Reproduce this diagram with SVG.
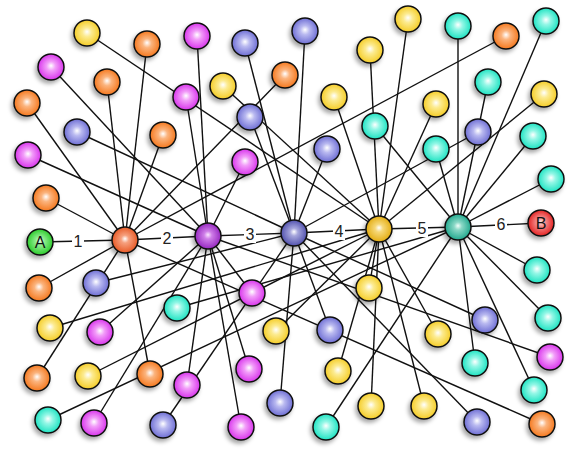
<svg xmlns="http://www.w3.org/2000/svg" xmlns:xlink="http://www.w3.org/1999/xlink" width="580" height="452" viewBox="0 0 580 452">
<defs>
<filter id="sh" x="-50%" y="-50%" width="200%" height="200%">
<feDropShadow dx="-2" dy="3" stdDeviation="2" flood-color="#000" flood-opacity="0.35"/>
</filter>
<radialGradient id="gO" cx="0.5" cy="0.5" r="0.5" fx="0.5" fy="0.45"><stop offset="0" stop-color="#fff"/><stop offset="0.35" stop-color="#fbb47e"/><stop offset="1" stop-color="#f5791f"/></radialGradient>
<radialGradient id="gM" cx="0.5" cy="0.5" r="0.5" fx="0.5" fy="0.45"><stop offset="0" stop-color="#fff"/><stop offset="0.35" stop-color="#f29cf9"/><stop offset="1" stop-color="#d936ec"/></radialGradient>
<radialGradient id="gB" cx="0.5" cy="0.5" r="0.5" fx="0.5" fy="0.45"><stop offset="0" stop-color="#fff"/><stop offset="0.35" stop-color="#b9b9f0"/><stop offset="1" stop-color="#6f6fd4"/></radialGradient>
<radialGradient id="gY" cx="0.5" cy="0.5" r="0.5" fx="0.5" fy="0.45"><stop offset="0" stop-color="#fff"/><stop offset="0.35" stop-color="#fceb90"/><stop offset="1" stop-color="#f5cd28"/></radialGradient>
<radialGradient id="gT" cx="0.5" cy="0.5" r="0.5" fx="0.5" fy="0.45"><stop offset="0" stop-color="#fff"/><stop offset="0.35" stop-color="#93f7e6"/><stop offset="1" stop-color="#1fe3c2"/></radialGradient>
<radialGradient id="h1" cx="0.5" cy="0.5" r="0.5" fx="0.5" fy="0.45"><stop offset="0" stop-color="#fff"/><stop offset="0.3" stop-color="#f6a07e"/><stop offset="1" stop-color="#e85a26"/></radialGradient>
<radialGradient id="h2" cx="0.5" cy="0.5" r="0.5" fx="0.5" fy="0.45"><stop offset="0" stop-color="#fbe6ff"/><stop offset="0.3" stop-color="#cf7ee8"/><stop offset="1" stop-color="#9628c0"/></radialGradient>
<radialGradient id="h3" cx="0.5" cy="0.5" r="0.5" fx="0.5" fy="0.45"><stop offset="0" stop-color="#fff"/><stop offset="0.3" stop-color="#a6a6dc"/><stop offset="1" stop-color="#5252ae"/></radialGradient>
<radialGradient id="h4" cx="0.5" cy="0.5" r="0.5" fx="0.5" fy="0.45"><stop offset="0" stop-color="#fff"/><stop offset="0.3" stop-color="#f6d878"/><stop offset="1" stop-color="#e4ad12"/></radialGradient>
<radialGradient id="h5" cx="0.5" cy="0.5" r="0.5" fx="0.5" fy="0.45"><stop offset="0" stop-color="#f2fffb"/><stop offset="0.3" stop-color="#8ad8c6"/><stop offset="1" stop-color="#22a98e"/></radialGradient>
<radialGradient id="gA" cx="0.5" cy="0.5" r="0.5" fx="0.5" fy="0.45"><stop offset="0" stop-color="#e8ffe8"/><stop offset="0.35" stop-color="#8cec8c"/><stop offset="1" stop-color="#2ccc2c"/></radialGradient>
<radialGradient id="gR" cx="0.5" cy="0.5" r="0.5" fx="0.5" fy="0.45"><stop offset="0" stop-color="#ffe8e8"/><stop offset="0.35" stop-color="#f58a8a"/><stop offset="1" stop-color="#e42424"/></radialGradient>
</defs>
<style>
circle{stroke:#111;stroke-width:1.5;filter:url(#sh)}
.o{fill:url(#gO)}.m{fill:url(#gM)}.b{fill:url(#gB)}.y{fill:url(#gY)}.t{fill:url(#gT)}
#edges line{stroke:#111;stroke-width:1.4}
.lbl{font-family:"Liberation Sans",Arial,sans-serif;font-size:16px;fill:#222;text-anchor:middle}
.nl{font-family:"Liberation Sans",Arial,sans-serif;font-size:16px;fill:#111;text-anchor:middle}
.bg{fill:#fff}
</style>
<rect width="580" height="452" fill="#fff"/>
<g id="edges">
<line x1="40" y1="242" x2="125" y2="240"/>
<line x1="125" y1="240" x2="208" y2="236"/>
<line x1="208" y1="236" x2="294" y2="233"/>
<line x1="294" y1="233" x2="379" y2="229"/>
<line x1="379" y1="229" x2="458" y2="227"/>
<line x1="458" y1="227" x2="541" y2="223"/>
<!-- H1 -->
<line x1="125" y1="240" x2="147" y2="44"/>
<line x1="125" y1="240" x2="506" y2="36"/>
<line x1="125" y1="240" x2="107" y2="82"/>
<line x1="125" y1="240" x2="285" y2="75"/>
<line x1="125" y1="240" x2="27" y2="103"/>
<line x1="125" y1="240" x2="163" y2="135"/>
<line x1="125" y1="240" x2="46" y2="198"/>
<line x1="125" y1="240" x2="39" y2="288"/>
<line x1="125" y1="240" x2="37" y2="378"/>
<line x1="125" y1="240" x2="150" y2="374"/>
<line x1="125" y1="240" x2="542" y2="424"/>
<!-- H2 -->
<line x1="208" y1="236" x2="197" y2="36"/>
<line x1="208" y1="236" x2="51" y2="67"/>
<line x1="208" y1="236" x2="186" y2="97"/>
<line x1="208" y1="236" x2="28" y2="155"/>
<line x1="208" y1="236" x2="245" y2="162"/>
<line x1="208" y1="236" x2="252" y2="293"/>
<line x1="208" y1="236" x2="100" y2="332"/>
<line x1="208" y1="236" x2="550" y2="357"/>
<line x1="208" y1="236" x2="187" y2="385"/>
<line x1="208" y1="236" x2="249" y2="369"/>
<line x1="208" y1="236" x2="94" y2="423"/>
<line x1="208" y1="236" x2="241" y2="427"/>
<!-- H3 -->
<line x1="294" y1="233" x2="245" y2="43"/>
<line x1="294" y1="233" x2="305" y2="31"/>
<line x1="294" y1="233" x2="250" y2="117"/>
<line x1="294" y1="233" x2="77" y2="132"/>
<line x1="294" y1="233" x2="478" y2="132"/>
<line x1="294" y1="233" x2="327" y2="149"/>
<line x1="294" y1="233" x2="96" y2="283"/>
<line x1="294" y1="233" x2="330" y2="330"/>
<line x1="294" y1="233" x2="485" y2="320"/>
<line x1="294" y1="233" x2="163" y2="425"/>
<line x1="294" y1="233" x2="280" y2="403"/>
<line x1="294" y1="233" x2="477" y2="422"/>
<!-- H4 -->
<line x1="379" y1="229" x2="87" y2="33"/>
<line x1="379" y1="229" x2="408" y2="19"/>
<line x1="379" y1="229" x2="223" y2="86"/>
<line x1="379" y1="229" x2="370" y2="50"/>
<line x1="379" y1="229" x2="334" y2="97"/>
<line x1="379" y1="229" x2="544" y2="94"/>
<line x1="379" y1="229" x2="436" y2="104"/>
<line x1="379" y1="229" x2="369" y2="288"/>
<line x1="379" y1="229" x2="50" y2="328"/>
<line x1="379" y1="229" x2="276" y2="331"/>
<line x1="379" y1="229" x2="438" y2="334"/>
<line x1="379" y1="229" x2="88" y2="376"/>
<line x1="379" y1="229" x2="338" y2="371"/>
<line x1="379" y1="229" x2="371" y2="406"/>
<line x1="379" y1="229" x2="424" y2="406"/>
<!-- H5 -->
<line x1="458" y1="227" x2="458" y2="26"/>
<line x1="458" y1="227" x2="546" y2="21"/>
<line x1="458" y1="227" x2="488" y2="82"/>
<line x1="458" y1="227" x2="375" y2="126"/>
<line x1="458" y1="227" x2="436" y2="149"/>
<line x1="458" y1="227" x2="533" y2="136"/>
<line x1="458" y1="227" x2="551" y2="179"/>
<line x1="458" y1="227" x2="537" y2="270"/>
<line x1="458" y1="227" x2="177" y2="308"/>
<line x1="458" y1="227" x2="548" y2="318"/>
<line x1="458" y1="227" x2="475" y2="363"/>
<line x1="458" y1="227" x2="534" y2="390"/>
<line x1="458" y1="227" x2="48" y2="420"/>
<line x1="458" y1="227" x2="326" y2="427"/>
</g>
<g id="labels">
<rect class="bg" x="72" y="233" width="12" height="17"/><text class="lbl" x="78" y="247">1</text>
<rect class="bg" x="161" y="229" width="12" height="17"/><text class="lbl" x="167" y="244">2</text>
<rect class="bg" x="244" y="226" width="12" height="17"/><text class="lbl" x="250" y="240">3</text>
<rect class="bg" x="333" y="223" width="12" height="17"/><text class="lbl" x="339" y="237">4</text>
<rect class="bg" x="416" y="220" width="12" height="17"/><text class="lbl" x="422" y="234">5</text>
<rect class="bg" x="495" y="216" width="12" height="17"/><text class="lbl" x="501" y="230">6</text>
</g>
<g id="n1"><circle class="y" cx="87" cy="33" r="13"/></g>
<g id="n2"><circle class="o" cx="147" cy="44" r="13"/></g>
<g id="n3"><circle class="m" cx="197" cy="36" r="13"/></g>
<g id="n4"><circle class="b" cx="245" cy="43" r="13"/></g>
<g id="n5"><circle class="b" cx="305" cy="31" r="13"/></g>
<g id="n6"><circle class="y" cx="408" cy="19" r="13"/></g>
<g id="n7"><circle class="t" cx="458" cy="26" r="13"/></g>
<g id="n8"><circle class="o" cx="506" cy="36" r="13"/></g>
<g id="n9"><circle class="t" cx="546" cy="21" r="13"/></g>
<g id="n10"><circle class="m" cx="51" cy="67" r="13"/></g>
<g id="n11"><circle class="o" cx="107" cy="82" r="13"/></g>
<g id="n12"><circle class="m" cx="186" cy="97" r="13"/></g>
<g id="n13"><circle class="y" cx="223" cy="86" r="13"/></g>
<g id="n14"><circle class="o" cx="285" cy="75" r="13"/></g>
<g id="n15"><circle class="y" cx="370" cy="50" r="13"/></g>
<g id="n16"><circle class="y" cx="334" cy="97" r="13"/></g>
<g id="n17"><circle class="b" cx="250" cy="117" r="13"/></g>
<g id="n18"><circle class="t" cx="488" cy="82" r="13"/></g>
<g id="n19"><circle class="y" cx="544" cy="94" r="13"/></g>
<g id="n20"><circle class="o" cx="27" cy="103" r="13"/></g>
<g id="n21"><circle class="b" cx="77" cy="132" r="13"/></g>
<g id="n22"><circle class="o" cx="163" cy="135" r="13"/></g>
<g id="n23"><circle class="t" cx="375" cy="126" r="13"/></g>
<g id="n24"><circle class="y" cx="436" cy="104" r="13"/></g>
<g id="n25"><circle class="b" cx="478" cy="132" r="13"/></g>
<g id="n26"><circle class="t" cx="436" cy="149" r="13"/></g>
<g id="n27"><circle class="t" cx="533" cy="136" r="13"/></g>
<g id="n28"><circle class="m" cx="28" cy="155" r="13"/></g>
<g id="n29"><circle class="b" cx="327" cy="149" r="13"/></g>
<g id="n30"><circle class="m" cx="245" cy="162" r="13"/></g>
<g id="n31"><circle class="t" cx="551" cy="179" r="13"/></g>
<g id="n32"><circle class="o" cx="46" cy="198" r="13"/></g>
<g id="n35"><circle class="o" cx="39" cy="288" r="13"/></g>
<g id="n36"><circle class="b" cx="96" cy="283" r="13"/></g>
<g id="n37"><circle class="m" cx="252" cy="293" r="13"/></g>
<g id="n38"><circle class="y" cx="369" cy="288" r="13"/></g>
<g id="n39"><circle class="t" cx="537" cy="270" r="13"/></g>
<g id="n40"><circle class="t" cx="177" cy="308" r="13"/></g>
<g id="n41"><circle class="y" cx="50" cy="328" r="13"/></g>
<g id="n42"><circle class="m" cx="100" cy="332" r="13"/></g>
<g id="n43"><circle class="y" cx="276" cy="331" r="13"/></g>
<g id="n44"><circle class="b" cx="330" cy="330" r="13"/></g>
<g id="n45"><circle class="b" cx="485" cy="320" r="13"/></g>
<g id="n46"><circle class="t" cx="548" cy="318" r="13"/></g>
<g id="n47"><circle class="y" cx="438" cy="334" r="13"/></g>
<g id="n48"><circle class="m" cx="550" cy="357" r="13"/></g>
<g id="n49"><circle class="o" cx="37" cy="378" r="13"/></g>
<g id="n50"><circle class="y" cx="88" cy="376" r="13"/></g>
<g id="n51"><circle class="o" cx="150" cy="374" r="13"/></g>
<g id="n52"><circle class="m" cx="187" cy="385" r="13"/></g>
<g id="n53"><circle class="m" cx="249" cy="369" r="13"/></g>
<g id="n54"><circle class="y" cx="338" cy="371" r="13"/></g>
<g id="n55"><circle class="t" cx="475" cy="363" r="13"/></g>
<g id="n56"><circle class="t" cx="534" cy="390" r="13"/></g>
<g id="n57"><circle class="t" cx="48" cy="420" r="13"/></g>
<g id="n58"><circle class="m" cx="94" cy="423" r="13"/></g>
<g id="n59"><circle class="b" cx="163" cy="425" r="13"/></g>
<g id="n60"><circle class="m" cx="241" cy="427" r="13"/></g>
<g id="n61"><circle class="b" cx="280" cy="403" r="13"/></g>
<g id="n62"><circle class="t" cx="326" cy="427" r="13"/></g>
<g id="n63"><circle class="y" cx="371" cy="406" r="13"/></g>
<g id="n64"><circle class="y" cx="424" cy="406" r="13"/></g>
<g id="n65"><circle class="b" cx="477" cy="422" r="13"/></g>
<g id="n66"><circle class="o" cx="542" cy="424" r="13"/></g>
<g id="hub1"><circle cx="125" cy="240" r="13" fill="url(#h1)"/></g>
<g id="hub2"><circle cx="208" cy="236" r="13" fill="url(#h2)"/></g>
<g id="hub3"><circle cx="294" cy="233" r="13" fill="url(#h3)"/></g>
<g id="hub4"><circle cx="379" cy="229" r="13" fill="url(#h4)"/></g>
<g id="hub5"><circle cx="458" cy="227" r="13" fill="url(#h5)"/></g>
<g id="nodeA"><circle cx="40" cy="242" r="13" fill="url(#gA)"/><text class="nl" x="40" y="248">A</text></g>
<g id="nodeB"><circle cx="541" cy="223" r="13" fill="url(#gR)"/><text class="nl" x="541" y="229">B</text></g>
</svg>
